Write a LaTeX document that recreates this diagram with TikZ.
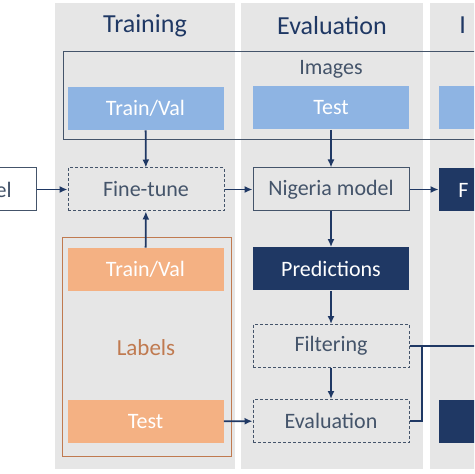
\documentclass[tikz,border=0pt]{standalone}
\usepackage{fontspec}
\setmainfont{Carlito}
\usetikzlibrary{arrows.meta}

\definecolor{navy}{HTML}{1F3864}
\definecolor{slate}{HTML}{44546A}
\definecolor{panelgray}{HTML}{E6E6E6}
\definecolor{skyblue}{HTML}{8EB4E3}
\definecolor{peach}{HTML}{F4B183}
\definecolor{rust}{HTML}{C07A50}

\begin{document}
\begin{tikzpicture}[x=0.5pt, y=-0.5pt, every node/.style={font=\fontsize{11}{13}\selectfont}]
    \tikzset{
      cell/.style={minimum width=78pt, minimum height=21.5pt, inner sep=0pt, text=white},
      imgcell/.style={cell, fill=skyblue},
      lblcell/.style={cell, fill=peach},
      darkcell/.style={cell, fill=navy},
      stepcell/.style={cell, draw=slate, line width=0.5pt, text=slate, dash pattern=on 1.5pt off 1pt},
      modelcell/.style={cell, draw=slate, line width=0.5pt, text=slate},
      heading/.style={font=\fontsize{13}{15}\selectfont, text=navy},
      flow/.style={-{Latex[length=4pt,width=3.5pt]}, navy, line width=0.9pt}
    }
    \useasboundingbox (0,0) rectangle (474,474);
    \clip (0,0) rectangle (474,474);
    \fill[white] (0,0) rectangle (474,474);

    % columns
    \fill[panelgray] (55,3) rectangle (235,469);
    \fill[panelgray] (241,3) rectangle (423,469);
    \fill[panelgray] (430,3) rectangle (620,469);

    \node[heading] (trainT) at (145,26) {Training};
    \node[heading] (evalT) at (332,26) {Evaluation};
    \node[heading, anchor=west, inner sep=0pt] (thirdT) at (459,25) {I};

    % images / labels frames
    \draw[slate, line width=0.5pt] (63,52) rectangle (620,140);
    \node[text=slate] (imgs) at (331,69) {Images};
    \draw[rust, line width=0.5pt] (62,238) rectangle (231,456);
    \node[text=rust, font=\fontsize{11.5}{13}\selectfont] (lbls) at (146,348) {Labels};

    \node[imgcell] (trainI) at (145.5,108.5) {Train/Val};
    \node[imgcell] (testI) at (331,108) {Test};
    \node[imgcell] (thirdI) at (517,108) {};

    \node[modelcell, fill=white] (base) at (-42,189.5) {};
    \node[anchor=east, inner sep=0pt, text=slate] (basetxt) at (12,190) {el};
    \node[stepcell] (tune) at (146,189.5) {Fine-tune};
    \node[modelcell] (nga) at (331,189.5) {Nigeria model};
    \node[darkcell] (thirdM) at (517,189.5) {};
    \node[anchor=west, inner sep=0pt, text=white] (thirdMtxt) at (458,190) {F};

    \node[lblcell] (trainL) at (145.5,269.5) {Train/Val};
    \node[darkcell] (pred) at (331,269) {Predictions};
    \node[stepcell] (filt) at (331,346) {Filtering};
    \node[lblcell] (testL) at (145.5,421.5) {Test};
    \node[stepcell] (evalS) at (331,421) {Evaluation};
    \node[darkcell] (thirdB) at (517,421.5) {};

    \foreach \src/\dst in {base/tune, trainI/tune, trainL/tune, tune/nga, testI/nga,
        nga/thirdM, nga/pred, pred/filt, filt/evalS, testL/evalS} {
        \draw[flow] (\src) -- (\dst);
    }

    \coordinate (join) at (422,346);
    \coordinate (exit) at (620,346);
    \draw[navy, line width=0.9pt] (filt) -- (exit);
    \draw[navy, line width=0.9pt] (evalS) -| (join);
\end{tikzpicture}
\end{document}
